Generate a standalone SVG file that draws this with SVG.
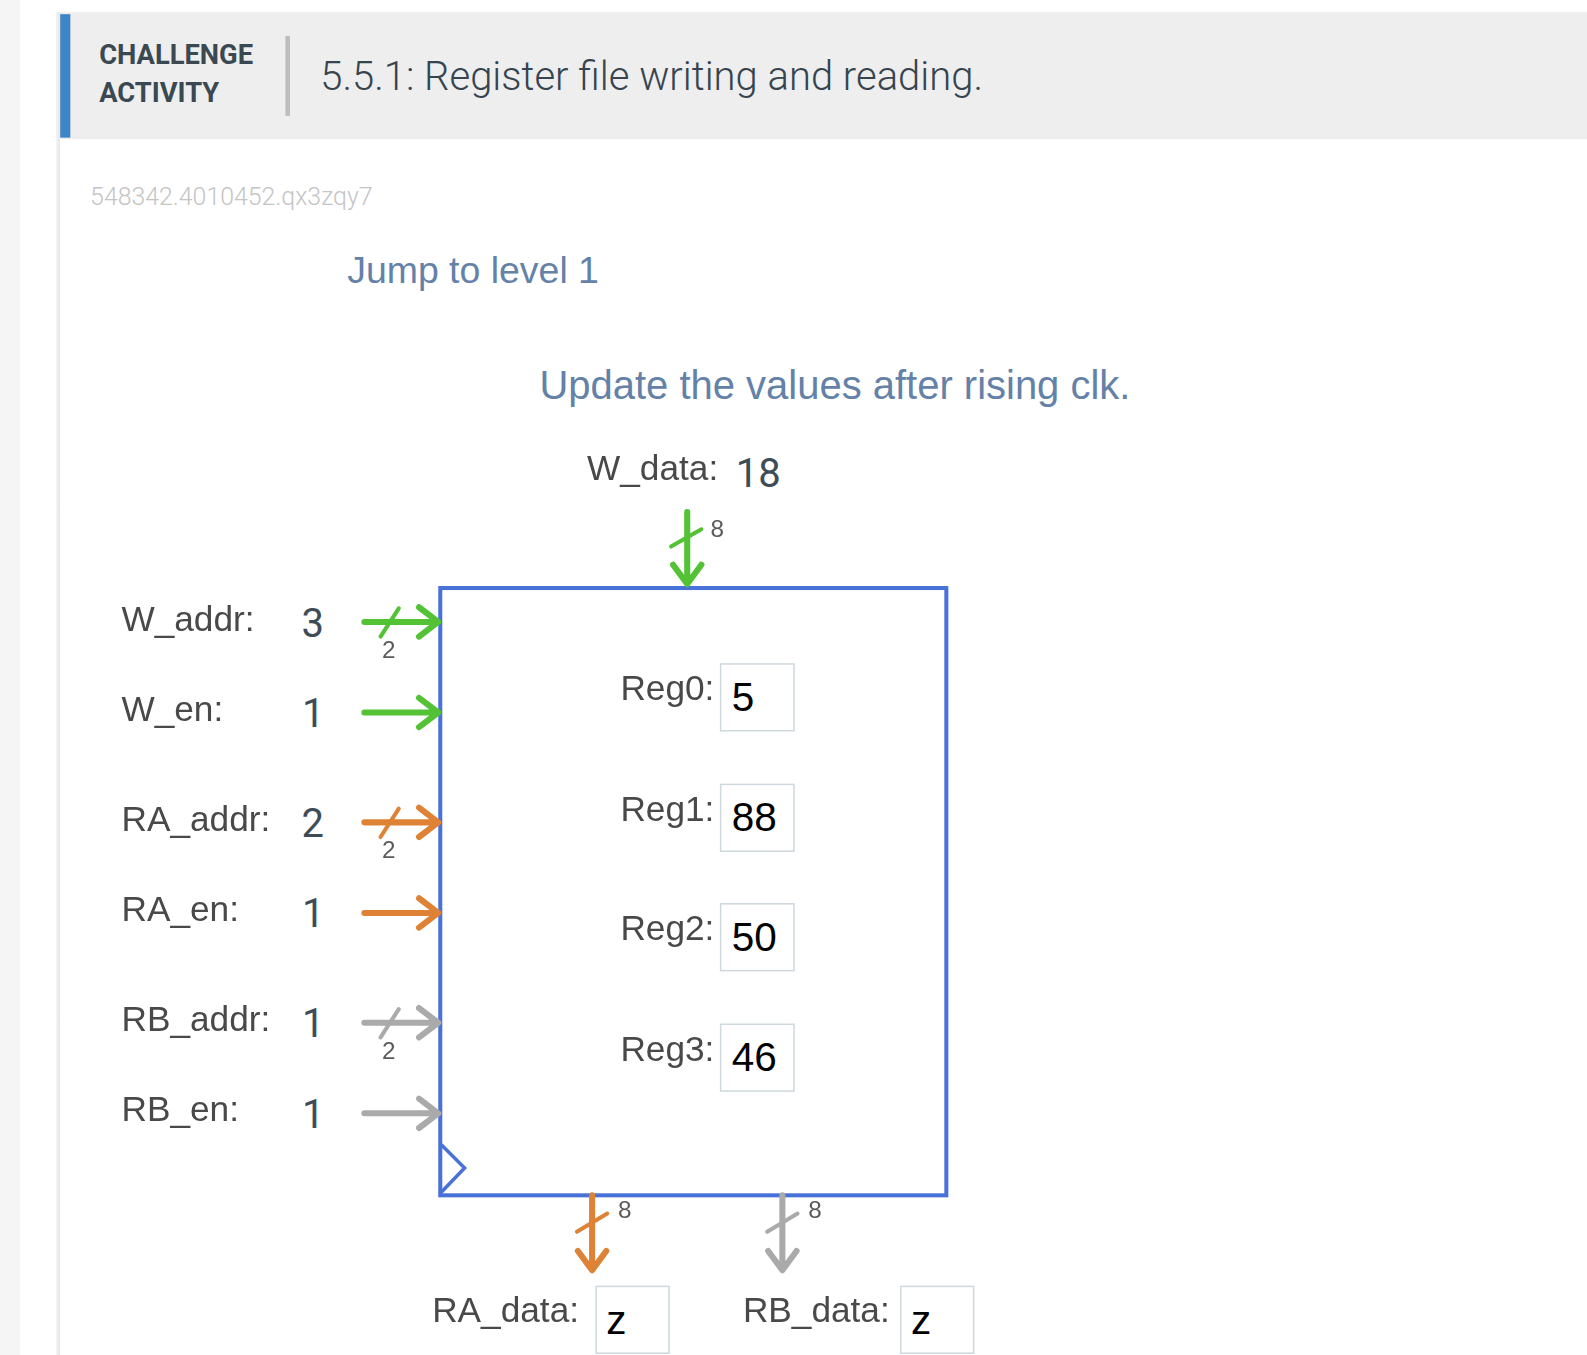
<svg xmlns="http://www.w3.org/2000/svg" width="1587" height="1355" viewBox="0 0 1587 1355">
<style>
.lbl{font:34.800px "Liberation Sans",Arial,sans-serif;fill:#484848}
.val{font:39.500px "Roboto",sans-serif;fill:#3e4c57}
.w{font:24px "Liberation Sans",Arial,sans-serif;fill:#5a5a5a}
.inp{font:40px "Liberation Sans",Arial,sans-serif;fill:#000}
.box{fill:#fff;stroke:#cfd8dc;stroke-width:1.5}
.cw{fill:none;stroke-width:6;stroke-linecap:round;stroke-linejoin:round}
.slash{fill:none;stroke-width:4;stroke-linecap:round}
.g{stroke:#52c234}.o{stroke:#de8336}.y{stroke:#aaa}
</style>
<defs>
<filter id="soft" x="-5%" y="-5%" width="110%" height="110%"><feGaussianBlur stdDeviation="0.6"/></filter>
<linearGradient id="sh" x1="0" x2="1" y1="0" y2="0"><stop offset="0" stop-color="#f5f5f5"/><stop offset="1" stop-color="#e4e4e4"/></linearGradient>
</defs>
<rect width="1587" height="1355" fill="#fff"/>
<rect x="0" y="0" width="20" height="1355" fill="#f5f5f5"/>
<rect x="56" y="12" width="4" height="1343" fill="url(#sh)"/>
<g transform="scale(1.01212)">
<g id="header">
<rect x="59" y="12" width="1509" height="125.500" fill="#eeeeee"/>
<rect x="59.500" y="14" width="10" height="122" fill="#3d85c6"/>
<rect x="282" y="35.500" width="4.500" height="79" fill="#bdbdbd"/>
<text x="98" y="63" style="font:700 27px Roboto,sans-serif;fill:#3a4852">CHALLENGE</text>
<text x="98" y="101" style="font:700 27px Roboto,sans-serif;fill:#3a4852">ACTIVITY</text>
<text x="316.500" y="89" style="font:300 39.500px Roboto,sans-serif;fill:#36444f">5.5.1: Register file writing and reading.</text>
</g>
<text id="code" x="89" y="203" style="font:300 24.600px Roboto,sans-serif;fill:#c4c4c4">548342.4010452.qx3zqy7</text>
<text id="jump" x="343" y="280" style="font:37px 'Liberation Sans',Arial,sans-serif;fill:#6481a8">Jump to level 1</text>
<text id="instr" x="533" y="394" style="font:39.500px 'Liberation Sans',Arial,sans-serif;fill:#6481a8">Update the values after rising clk.</text>

<g id="register-file" filter="url(#soft)">
<rect x="435" y="581" width="500" height="600" fill="#fff" stroke="#4a72d8" stroke-width="4"/>
<path d="M436 1131 L459 1154 L436 1178" fill="none" stroke="#4a72d8" stroke-width="3.500"/>
</g>
<g id="connectors" filter="url(#soft)">
<path class="cw g" d="M360 614.500H431M414 600L433 614.500L414 629"/><path class="slash g" d="M376 629L394 601"/>
<path class="cw g" d="M360 704H431M414 689.500L433 704L414 718.500"/>
<path class="cw o" d="M360 812.500H431M414 798L433 812.500L414 827"/><path class="slash o" d="M376 827L394 799"/>
<path class="cw o" d="M360 902H431M414 887.500L433 902L414 916.500"/>
<path class="cw y" d="M360 1010.500H431M414 996L433 1010.500L414 1025"/><path class="slash y" d="M376 1025L394 997"/>
<path class="cw y" d="M360 1100H431M414 1085.500L433 1100L414 1114.500"/>
<path class="cw g" d="M679 506V576M665 558L679 577L693 558"/><path class="slash g" d="M663 540L693 523"/>
<path class="cw o" d="M585 1181V1253M571 1236L585 1255L599 1236"/><path class="slash o" d="M570 1217L600 1199"/>
<path class="cw y" d="M773 1181V1253M759 1236L773 1255L787 1236"/><path class="slash y" d="M758 1217L788 1199"/>
</g>
<g id="bus-widths" filter="url(#soft)">
<text class="w" x="702" y="531">8</text>
<text class="w" x="377.500" y="650">2</text>
<text class="w" x="377.500" y="848">2</text>
<text class="w" x="377.500" y="1046">2</text>
<text class="w" x="610.500" y="1203">8</text>
<text class="w" x="798.500" y="1203">8</text>
</g>
<g id="inputs">
<g id="w-data"><text class="lbl" x="580" y="474" filter="url(#soft)">W_data:</text><text class="val" x="727" y="481">18</text></g>
<g id="w-addr"><text class="lbl" x="120" y="623" filter="url(#soft)">W_addr:</text><text class="val" x="298" y="629">3</text></g>
<g id="w-en"><text class="lbl" x="120" y="712" filter="url(#soft)">W_en:</text><text class="val" x="298.500" y="718">1</text></g>
<g id="ra-addr"><text class="lbl" x="120" y="821" filter="url(#soft)">RA_addr:</text><text class="val" x="298" y="827">2</text></g>
<g id="ra-en"><text class="lbl" x="120" y="910" filter="url(#soft)">RA_en:</text><text class="val" x="298.500" y="916">1</text></g>
<g id="rb-addr"><text class="lbl" x="120" y="1019" filter="url(#soft)">RB_addr:</text><text class="val" x="298.500" y="1025">1</text></g>
<g id="rb-en"><text class="lbl" x="120" y="1108" filter="url(#soft)">RB_en:</text><text class="val" x="298.500" y="1114">1</text></g>
</g>
<g id="reg0"><text class="lbl" x="613" y="692" filter="url(#soft)">Reg0:</text><rect class="box" x="712" y="656" width="72.500" height="66"/><text class="inp" x="723" y="702">5</text></g>
<g id="reg1"><text class="lbl" x="613" y="811" filter="url(#soft)">Reg1:</text><rect class="box" x="712" y="775" width="72.500" height="66"/><text class="inp" x="723" y="821">88</text></g>
<g id="reg2"><text class="lbl" x="613" y="929" filter="url(#soft)">Reg2:</text><rect class="box" x="712" y="893" width="72.500" height="66"/><text class="inp" x="723" y="940">50</text></g>
<g id="reg3"><text class="lbl" x="613" y="1048" filter="url(#soft)">Reg3:</text><rect class="box" x="712" y="1012" width="72.500" height="66"/><text class="inp" x="723" y="1058">46</text></g>
<g id="ra-data"><text class="lbl" x="427" y="1306" filter="url(#soft)">RA_data:</text><rect class="box" x="589" y="1271" width="72" height="66"/><text class="inp" x="599" y="1318">z</text></g>
<g id="rb-data"><text class="lbl" x="734" y="1306" filter="url(#soft)">RB_data:</text><rect class="box" x="890" y="1271" width="72" height="66"/><text class="inp" x="900" y="1318">z</text></g>
</g>
</svg>
